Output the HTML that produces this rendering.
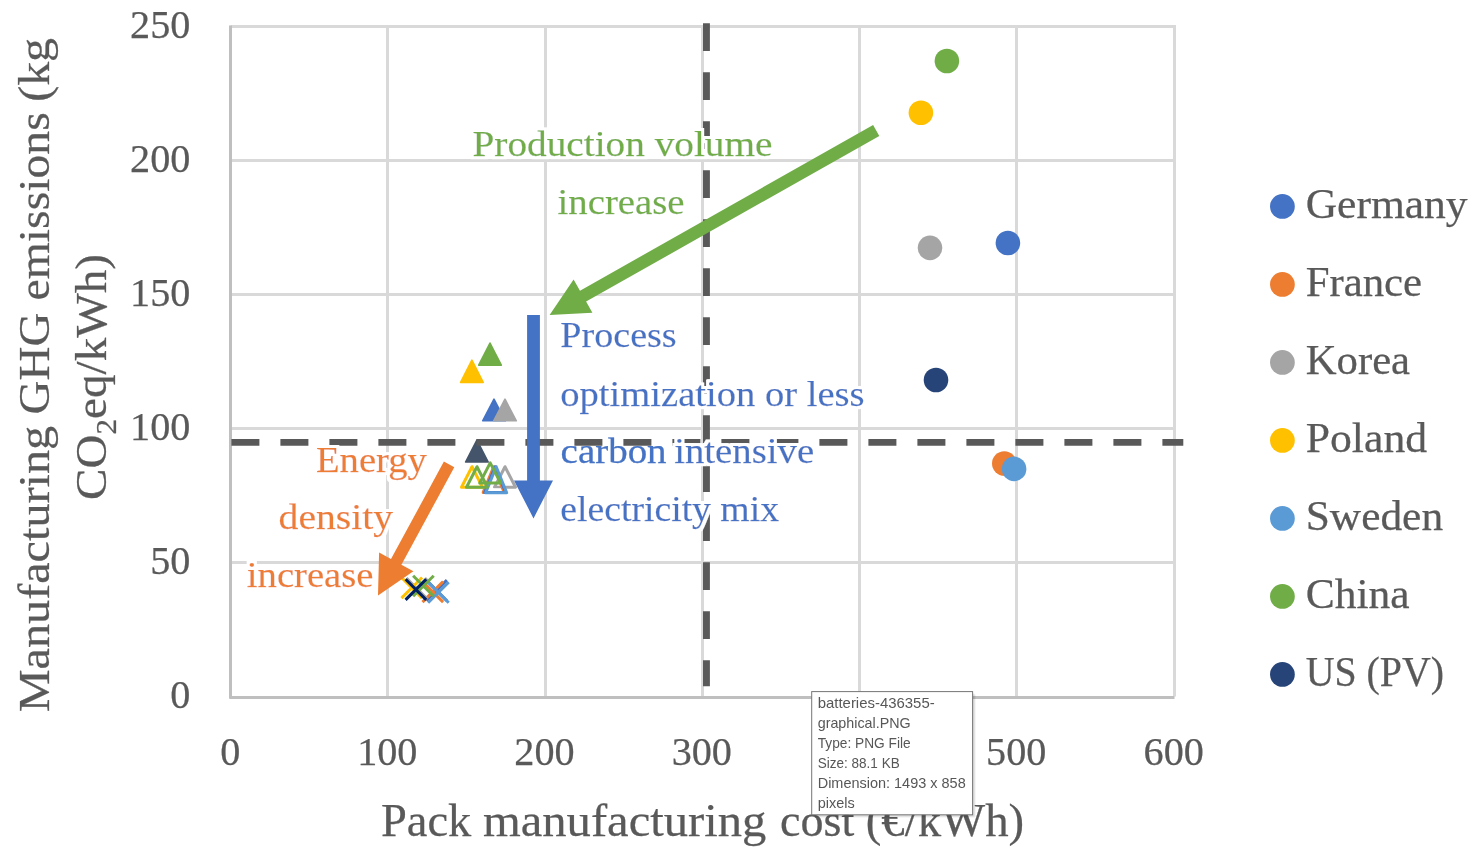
<!DOCTYPE html>
<html lang="en"><head><meta charset="utf-8"><title>Battery pack manufacturing cost vs GHG emissions</title>
<style>html,body{margin:0;padding:0;background:#fff;}body{width:1481px;height:852px;overflow:hidden;}svg{display:block;}text{font-family:"Liberation Serif", "DejaVu Serif", serif;stroke-width:0.25px;paint-order:stroke fill;}.tip text{font-family:"Liberation Sans", "DejaVu Sans", sans-serif;}</style></head><body>
<svg width="1481" height="852" viewBox="0 0 1481 852">
<rect width="1481" height="852" fill="#fff"/>
<defs><filter id="halo" x="-5%" y="-30%" width="110%" height="160%"><feMorphology in="SourceAlpha" operator="dilate" radius="3.2" result="d"/><feFlood flood-color="#fff"/><feComposite in2="d" operator="in" result="h"/><feMerge><feMergeNode in="h"/><feMergeNode in="SourceGraphic"/></feMerge></filter></defs>
<g stroke="#d9d9d9" stroke-width="3" fill="none">
<line x1="387.5" y1="25.0" x2="387.5" y2="696.5"/>
<line x1="545.5" y1="25.0" x2="545.5" y2="696.5"/>
<line x1="702.5" y1="25.0" x2="702.5" y2="696.5"/>
<line x1="859.5" y1="25.0" x2="859.5" y2="696.5"/>
<line x1="1016.5" y1="25.0" x2="1016.5" y2="696.5"/>
<line x1="1174.5" y1="25.0" x2="1174.5" y2="696.5"/>
<line x1="230.5" y1="26.5" x2="1176.0" y2="26.5"/>
<line x1="230.5" y1="160.5" x2="1176.0" y2="160.5"/>
<line x1="230.5" y1="294.5" x2="1176.0" y2="294.5"/>
<line x1="230.5" y1="428.5" x2="1176.0" y2="428.5"/>
<line x1="230.5" y1="562.5" x2="1176.0" y2="562.5"/>
</g>
<g stroke="#bfbfbf" stroke-width="3" fill="none">
<line x1="230.5" y1="25.5" x2="230.5" y2="698.5"/>
<line x1="229.5" y1="697.5" x2="1174.5" y2="697.5"/>
</g>
<text x="190.4" y="38.1" font-size="41" fill="#595959" stroke="#595959" text-anchor="end" textLength="60.3" lengthAdjust="spacingAndGlyphs">250</text>
<text x="190.4" y="172.1" font-size="41" fill="#595959" stroke="#595959" text-anchor="end" textLength="60.3" lengthAdjust="spacingAndGlyphs">200</text>
<text x="190.4" y="306.1" font-size="41" fill="#595959" stroke="#595959" text-anchor="end" textLength="60.3" lengthAdjust="spacingAndGlyphs">150</text>
<text x="190.4" y="440.1" font-size="41" fill="#595959" stroke="#595959" text-anchor="end" textLength="60.3" lengthAdjust="spacingAndGlyphs">100</text>
<text x="190.4" y="574.1" font-size="41" fill="#595959" stroke="#595959" text-anchor="end" textLength="40.2" lengthAdjust="spacingAndGlyphs">50</text>
<text x="190.4" y="708.2" font-size="41" fill="#595959" stroke="#595959" text-anchor="end" textLength="20.1" lengthAdjust="spacingAndGlyphs">0</text>
<text x="230.3" y="764.7" font-size="41" fill="#595959" stroke="#595959" text-anchor="middle" textLength="20.1" lengthAdjust="spacingAndGlyphs">0</text>
<text x="387.3" y="764.7" font-size="41" fill="#595959" stroke="#595959" text-anchor="middle" textLength="60.3" lengthAdjust="spacingAndGlyphs">100</text>
<text x="544.5" y="764.7" font-size="41" fill="#595959" stroke="#595959" text-anchor="middle" textLength="60.3" lengthAdjust="spacingAndGlyphs">200</text>
<text x="701.8" y="764.7" font-size="41" fill="#595959" stroke="#595959" text-anchor="middle" textLength="60.3" lengthAdjust="spacingAndGlyphs">300</text>
<text x="859.0" y="764.7" font-size="41" fill="#595959" stroke="#595959" text-anchor="middle" textLength="60.3" lengthAdjust="spacingAndGlyphs">400</text>
<text x="1016.2" y="764.7" font-size="41" fill="#595959" stroke="#595959" text-anchor="middle" textLength="60.3" lengthAdjust="spacingAndGlyphs">500</text>
<text x="1173.7" y="764.7" font-size="41" fill="#595959" stroke="#595959" text-anchor="middle" textLength="60.3" lengthAdjust="spacingAndGlyphs">600</text>
<text x="381.0" y="836.3" font-size="46" fill="#595959" stroke="#595959" textLength="90.3" lengthAdjust="spacingAndGlyphs">Pack</text>
<text x="483.0" y="836.3" font-size="46" fill="#595959" stroke="#595959" textLength="283.2" lengthAdjust="spacingAndGlyphs">manufacturing</text>
<text x="780.1" y="836.3" font-size="46" fill="#595959" stroke="#595959" textLength="74.2" lengthAdjust="spacingAndGlyphs">cost</text>
<text x="865.7" y="836.3" font-size="46" fill="#595959" stroke="#595959" textLength="158.5" lengthAdjust="spacingAndGlyphs">(€/kWh)</text>
<g transform="translate(48.6,712.34) rotate(-90)">
<text x="0.0" y="0.0" font-size="45.3" fill="#595959" stroke="#595959" textLength="286.5" lengthAdjust="spacingAndGlyphs">Manufacturing</text>
</g>
<g transform="translate(48.6,414.38) rotate(-90)">
<text x="0.0" y="0.0" font-size="45.3" fill="#595959" stroke="#595959" textLength="101.8" lengthAdjust="spacingAndGlyphs">GHG</text>
</g>
<g transform="translate(48.6,300.42) rotate(-90)">
<text x="0.0" y="0.0" font-size="45.3" fill="#595959" stroke="#595959" textLength="188.2" lengthAdjust="spacingAndGlyphs">emissions</text>
</g>
<g transform="translate(48.6,101.76) rotate(-90)">
<text x="0.0" y="0.0" font-size="45.3" fill="#595959" stroke="#595959" textLength="63.8" lengthAdjust="spacingAndGlyphs">(kg</text>
</g>
<g transform="translate(105.9,500.0) rotate(-90)">
<text x="0" y="0" font-size="45.3" fill="#595959" stroke="#595959" textLength="246" lengthAdjust="spacingAndGlyphs">CO<tspan font-size="30" dy="10">2</tspan><tspan dy="-10">eq/kWh)</tspan></text>
</g>
<circle cx="1007.9" cy="243.0" r="12.3" fill="#4472c4"/>
<circle cx="1004.3" cy="463.5" r="12.3" fill="#ed7d31"/>
<circle cx="930.0" cy="247.9" r="12.3" fill="#a5a5a5"/>
<circle cx="920.9" cy="112.8" r="12.3" fill="#ffc000"/>
<circle cx="1014.1" cy="468.9" r="12.3" fill="#5b9bd5"/>
<circle cx="946.9" cy="61.0" r="12.3" fill="#70ad47"/>
<circle cx="936.0" cy="380.0" r="12.3" fill="#264478"/>
<path d="M494.0 399.2 L505.3 420.8 L482.7 420.8 Z" fill="#4472c4" stroke="#4472c4" stroke-width="1.6" stroke-linejoin="round"/>
<path d="M505.0 399.2 L516.3 420.8 L493.7 420.8 Z" fill="#a5a5a5" stroke="#a5a5a5" stroke-width="1.6" stroke-linejoin="round"/>
<path d="M471.9 360.2 L483.2 382.4 L460.6 382.4 Z" fill="#ffc000" stroke="#ffc000" stroke-width="1.6" stroke-linejoin="round"/>
<path d="M490.0 343.0 L501.3 365.2 L478.7 365.2 Z" fill="#70ad47" stroke="#70ad47" stroke-width="1.6" stroke-linejoin="round"/>
<path d="M476.9 440.0 L488.2 462.0 L465.6 462.0 Z" fill="#44546a" stroke="#44546a" stroke-width="1.6" stroke-linejoin="round"/>
<path d="M505.0 466.7 L515.5 487.2 L494.5 487.2 Z" fill="none" stroke="#a5a5a5" stroke-width="3.0" stroke-linejoin="round"/>
<path d="M496.6 471.2 L504.0 489.7 L489.2 489.7 Z" fill="none" stroke="#ffffff" stroke-width="3.0" stroke-linejoin="round"/>
<path d="M493.7 466.7 L504.2 492.4 L483.2 492.4 Z" fill="none" stroke="#ed7d31" stroke-width="3.0" stroke-linejoin="round"/>
<path d="M495.2 466.7 L505.7 492.5 L484.7 492.5 Z" fill="none" stroke="#4472c4" stroke-width="3.0" stroke-linejoin="round"/>
<path d="M496.2 466.7 L506.7 492.7 L485.7 492.7 Z" fill="none" stroke="#5b9bd5" stroke-width="3.0" stroke-linejoin="round"/>
<path d="M472.0 466.7 L482.5 487.2 L461.5 487.2 Z" fill="none" stroke="#ffc000" stroke-width="3.0" stroke-linejoin="round"/>
<path d="M477.0 466.7 L487.5 487.2 L466.5 487.2 Z" fill="none" stroke="#70ad47" stroke-width="3.0" stroke-linejoin="round"/>
<path d="M490.2 462.9 L500.7 483.1 L479.7 483.1 Z" fill="none" stroke="#70ad47" stroke-width="3.0" stroke-linejoin="round"/>
<path d="M426.3 580.1 L446.9 600.7 M426.3 600.7 L446.9 580.1" stroke="#4472c4" stroke-width="3.0" fill="none"/>
<path d="M422.5 581.5 L443.1 602.1 M422.5 602.1 L443.1 581.5" stroke="#ed7d31" stroke-width="3.0" fill="none"/>
<path d="M406.4 578.1 L427.0 598.7 M406.4 598.7 L427.0 578.1" stroke="#a5a5a5" stroke-width="3.0" fill="none"/>
<path d="M401.5 577.5 L422.1 598.1 M401.5 598.1 L422.1 577.5" stroke="#ffc000" stroke-width="3.0" fill="none"/>
<path d="M428.1 582.1 L448.7 602.7 M428.1 602.7 L448.7 582.1" stroke="#5b9bd5" stroke-width="3.0" fill="none"/>
<path d="M413.1 575.7 L433.7 596.3 M413.1 596.3 L433.7 575.7" stroke="#70ad47" stroke-width="3.0" fill="none"/>
<path d="M405.6 579.3 L426.2 599.9 M405.6 599.9 L426.2 579.3" stroke="#002060" stroke-width="3.0" fill="none"/>
<path d="M231.4 442.4 H1183.3" stroke="#595959" stroke-width="6.8" stroke-dasharray="28 21" fill="none"/>
<path d="M706.45 23.2 V686.3" stroke="#595959" stroke-width="6.9" stroke-dasharray="27.9 21.1" fill="none"/>
<polygon points="873.1,125.1 580.0,290.7 573.6,279.5 549.6,315.0 592.4,312.7 586.1,301.6 879.3,135.9" fill="#70ad47"/>
<polygon points="527.1,315.0 527.1,480.4 514.0,480.4 533.5,518.4 553.0,480.4 539.9,480.4 539.9,315.0" fill="#4472c4"/>
<polygon points="443.9,461.6 391.0,559.1 379.1,552.6 378.0,595.5 413.4,571.2 401.4,564.7 454.3,467.2" fill="#ed7d31"/>
<text x="472.5" y="155.5" font-size="35" fill="#70ad47" stroke="#70ad47" textLength="300.0" lengthAdjust="spacingAndGlyphs" filter="url(#halo)">Production volume</text>
<text x="557.5" y="213.8" font-size="35" fill="#70ad47" stroke="#70ad47" textLength="127.1" lengthAdjust="spacingAndGlyphs" filter="url(#halo)">increase</text>
<text x="560.3" y="347.4" font-size="35" fill="#4472c4" stroke="#4472c4" textLength="116.4" lengthAdjust="spacingAndGlyphs" filter="url(#halo)">Process</text>
<text x="560.3" y="405.5" font-size="35" fill="#4472c4" stroke="#4472c4" textLength="304.3" lengthAdjust="spacingAndGlyphs" filter="url(#halo)">optimization or less</text>
<text x="560.6" y="463.4" font-size="35" fill="#4472c4" stroke="#4472c4" textLength="106.0" lengthAdjust="spacingAndGlyphs">carbon</text>
<text x="674.2" y="463.4" font-size="35" fill="#4472c4" stroke="#4472c4" textLength="140.0" lengthAdjust="spacingAndGlyphs" filter="url(#halo)">intensive</text>
<text x="560.3" y="521.1" font-size="35" fill="#4472c4" stroke="#4472c4" textLength="218.7" lengthAdjust="spacingAndGlyphs" filter="url(#halo)">electricity mix</text>
<text x="316.0" y="471.8" font-size="35" fill="#ed7d31" stroke="#ed7d31" textLength="110.9" lengthAdjust="spacingAndGlyphs" filter="url(#halo)">Energy</text>
<text x="278.6" y="528.9" font-size="35" fill="#ed7d31" stroke="#ed7d31" textLength="114.5" lengthAdjust="spacingAndGlyphs" filter="url(#halo)">density</text>
<text x="246.8" y="587.4" font-size="35" fill="#ed7d31" stroke="#ed7d31" textLength="126.7" lengthAdjust="spacingAndGlyphs" filter="url(#halo)">increase</text>
<circle cx="1282.4" cy="206.4" r="12.4" fill="#4472c4"/>
<text x="1305.7" y="218.0" font-size="42" fill="#595959" stroke="#595959" textLength="161.9" lengthAdjust="spacingAndGlyphs">Germany</text>
<circle cx="1282.4" cy="284.4" r="12.4" fill="#ed7d31"/>
<text x="1305.7" y="296.0" font-size="42" fill="#595959" stroke="#595959" textLength="116.4" lengthAdjust="spacingAndGlyphs">France</text>
<circle cx="1282.4" cy="362.4" r="12.4" fill="#a5a5a5"/>
<text x="1305.7" y="374.0" font-size="42" fill="#595959" stroke="#595959" textLength="104.4" lengthAdjust="spacingAndGlyphs">Korea</text>
<circle cx="1282.4" cy="440.4" r="12.4" fill="#ffc000"/>
<text x="1305.7" y="452.0" font-size="42" fill="#595959" stroke="#595959" textLength="121.4" lengthAdjust="spacingAndGlyphs">Poland</text>
<circle cx="1282.4" cy="518.4" r="12.4" fill="#5b9bd5"/>
<text x="1305.7" y="530.0" font-size="42" fill="#595959" stroke="#595959" textLength="137.4" lengthAdjust="spacingAndGlyphs">Sweden</text>
<circle cx="1282.4" cy="596.4" r="12.4" fill="#70ad47"/>
<text x="1305.7" y="608.0" font-size="42" fill="#595959" stroke="#595959" textLength="103.9" lengthAdjust="spacingAndGlyphs">China</text>
<circle cx="1282.4" cy="674.4" r="12.4" fill="#264478"/>
<text x="1305.7" y="686.0" font-size="42" fill="#595959" stroke="#595959" textLength="138.4" lengthAdjust="spacingAndGlyphs">US (PV)</text>
<g class="tip">
<rect x="814.5" y="694.5" width="161" height="123" fill="#000" opacity="0.07"/>
<rect x="813.5" y="693.5" width="161" height="123" fill="#000" opacity="0.08"/>
<rect x="811.7" y="691.6" width="160.9" height="123.2" fill="#fff" stroke="#767676" stroke-width="1"/>
<text x="817.7" y="708.2" font-size="14.4" fill="#575757" textLength="117.0" lengthAdjust="spacingAndGlyphs">batteries-436355-</text>
<text x="817.7" y="728.2" font-size="14.4" fill="#575757" textLength="93.0" lengthAdjust="spacingAndGlyphs">graphical.PNG</text>
<text x="817.7" y="748.3" font-size="14.4" fill="#575757" textLength="93.0" lengthAdjust="spacingAndGlyphs">Type: PNG File</text>
<text x="817.7" y="768.3" font-size="14.4" fill="#575757" textLength="82.0" lengthAdjust="spacingAndGlyphs">Size: 88.1 KB</text>
<text x="817.7" y="788.3" font-size="14.4" fill="#575757" textLength="148.0" lengthAdjust="spacingAndGlyphs">Dimension: 1493 x 858</text>
<text x="817.7" y="808.4" font-size="14.4" fill="#575757" textLength="37.0" lengthAdjust="spacingAndGlyphs">pixels</text>
</g>
</svg></body></html>
